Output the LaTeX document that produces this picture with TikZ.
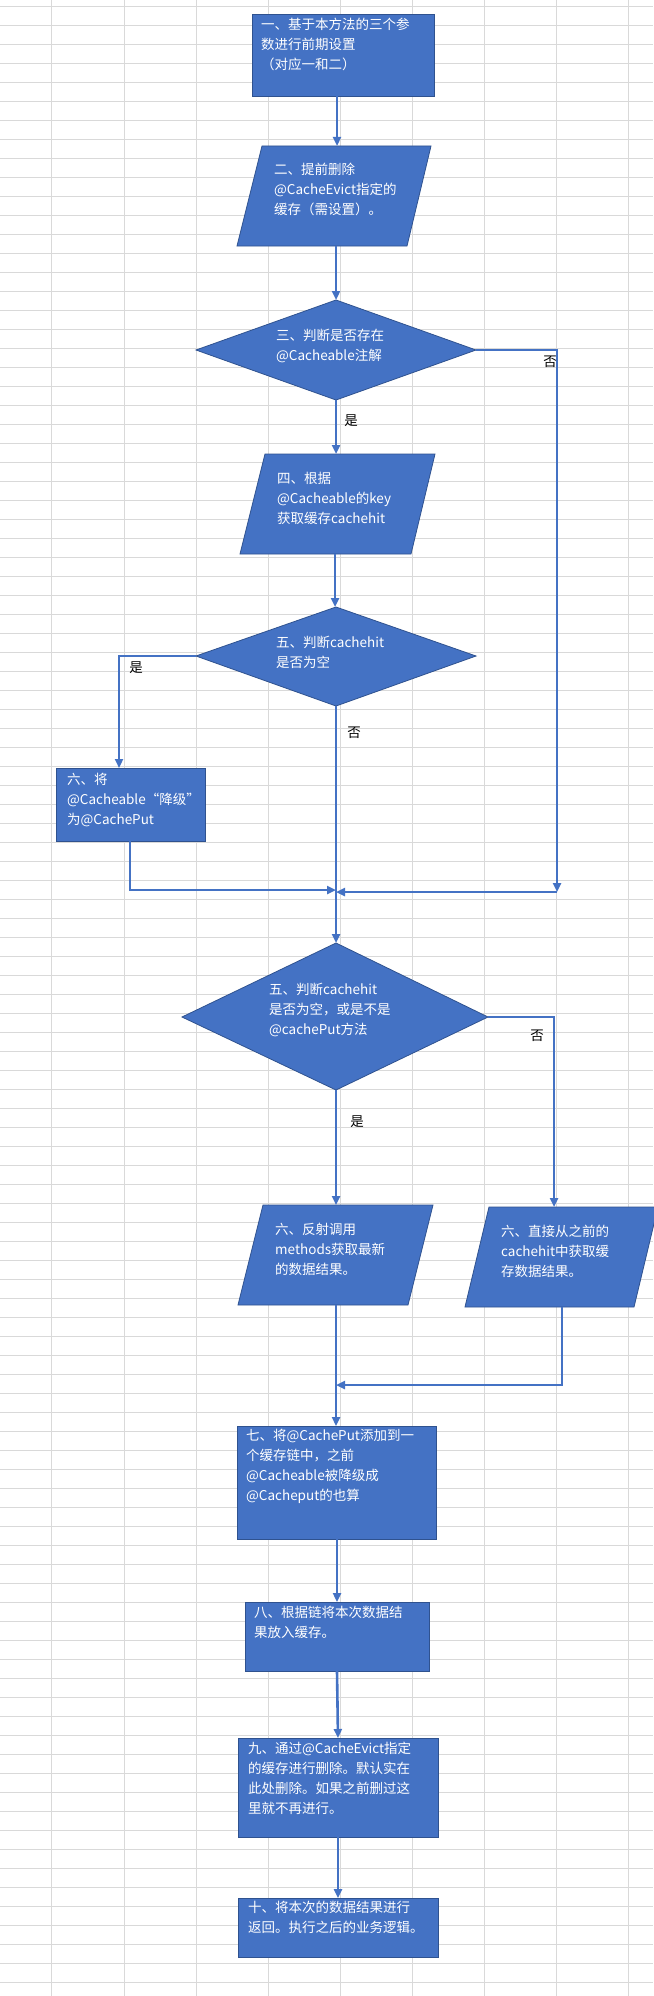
\documentclass[tikz,border=0pt]{standalone}
\usepackage{fontspec}
\setmainfont{Noto Sans CJK SC}
\usetikzlibrary{arrows.meta}
\definecolor{fillb}{HTML}{4472C4}
\definecolor{edgeb}{HTML}{2F528F}
\definecolor{gridc}{HTML}{D9D9D9}
\begin{document}
\begin{tikzpicture}[x=1pt,y=-1pt,
  shapebox/.style={fill=fillb,draw=edgeb,line width=0.8pt},
  txt/.style={anchor=north west,inner sep=0pt,text=white,align=left,font=\fontsize{13.5}{20}\selectfont},
  lbl/.style={inner sep=0pt,text=black,font=\fontsize{13.5}{16}\selectfont},
  conn/.style={draw=fillb,line width=2.6pt,-{Triangle[length=9pt,width=8pt]}},
  plain/.style={draw=fillb,line width=2.6pt}]
\useasboundingbox (0,0) rectangle (653,1996);
\fill[white] (0,0) rectangle (653,1996);
% grid
\foreach \gx in {51,124,196,268,340,412,484,556,628} \draw[gridc,line width=0.8pt] (\gx,0) -- (\gx,1996);
\foreach \k in {0,...,104} \draw[gridc,line width=0.8pt] (0,6.25+19*\k) -- (653,6.25+19*\k);
% shapes
\draw[shapebox] (252,14) rectangle (434,96);
\draw[shapebox] (262,146) -- (431,146) -- (407,246) -- (237,246) -- cycle;
\draw[shapebox] (196,350) -- (336,300) -- (476,350) -- (336,400) -- cycle;
\draw[shapebox] (265,454) -- (435,454) -- (411,554) -- (240,554) -- cycle;
\draw[shapebox] (196,656) -- (336,607) -- (476,656) -- (336,706) -- cycle;
\draw[shapebox] (56,768) rectangle (205,841);
\draw[shapebox] (182,1017) -- (336,943) -- (488,1017) -- (336,1090) -- cycle;
\draw[shapebox] (263,1205) -- (433,1205) -- (408,1305) -- (238,1305) -- cycle;
\draw[shapebox] (489,1207) -- (658,1207) -- (634,1307) -- (465,1307) -- cycle;
\draw[shapebox] (237,1426) rectangle (436,1539);
\draw[shapebox] (245,1602) rectangle (429,1671);
\draw[shapebox] (238,1738) rectangle (438,1837);
\draw[shapebox] (238,1898) rectangle (438,1957);
% coordinates
\coordinate (b1s) at (337,96); \coordinate (p2n) at (337,146);
\coordinate (p2s) at (336,246); \coordinate (d3n) at (336,300);
\coordinate (d3s) at (336,400); \coordinate (p4n) at (336,454);
\coordinate (d3e) at (476,350); \coordinate (c3e) at (557,350); \coordinate (m1e) at (557,892);
\coordinate (p4s) at (335,554); \coordinate (d5n) at (335,607);
\coordinate (d5w) at (196,656); \coordinate (c5w) at (119,656); \coordinate (b6n) at (119,768);
\coordinate (b6s) at (130,841); \coordinate (c6s) at (130,890); \coordinate (m1) at (336,890);
\coordinate (m1r) at (336,892);
\coordinate (d5s) at (336,706); \coordinate (d6n) at (336,943);
\coordinate (d6e) at (488,1017); \coordinate (c6e) at (554,1017); \coordinate (p6bn) at (554,1207);
\coordinate (d6s) at (336,1090); \coordinate (p6an) at (336,1205);
\coordinate (p6as) at (336,1305); \coordinate (b7n) at (336,1426);
\coordinate (p6bs) at (562,1307); \coordinate (c6bs) at (562,1385); \coordinate (m2) at (336,1385);
\coordinate (b7s) at (337,1539); \coordinate (b8n) at (337,1602);
\coordinate (b8s) at (337,1671); \coordinate (b9n) at (338,1738);
\coordinate (b9s) at (338,1837); \coordinate (b10n) at (338,1898);
% connectors
\draw[conn] (b1s) -- (p2n);
\draw[conn] (p2s) -- (d3n);
\draw[conn] (d3s) -- (p4n);
\draw[conn] (d3e) -- (c3e) -- (m1e);
\draw[conn] (m1e) -- (m1r);
\draw[conn] (p4s) -- (d5n);
\draw[conn] (d5w) -- (c5w) -- (b6n);
\draw[conn] (b6s) -- (c6s) -- (m1);
\draw[conn] (d5s) -- (d6n);
\draw[conn] (d6e) -- (c6e) -- (p6bn);
\draw[conn] (d6s) -- (p6an);
\draw[conn] (p6as) -- (b7n);
\draw[conn] (p6bs) -- (c6bs) -- (m2);
\draw[conn] (b7s) -- (b8n);
\draw[conn] (b8s) -- (b9n);
\draw[conn] (b9s) -- (b10n);
% texts
\node[txt] (t1) at (261,18) {一、基于本方法的三个参\\数进行前期设置\\（对应一和二）};
\node[txt] (t2) at (274,163) {二、提前删除\\@CacheEvict指定的\\缓存（需设置）。};
\node[txt] (t3) at (276,329) {三、判断是否存在\\@Cacheable注解};
\node[txt] (t4) at (277,472) {四、根据\\@Cacheable的key\\获取缓存cachehit};
\node[txt] (t5) at (276,636) {五、判断cachehit\\是否为空};
\node[txt] (t6) at (67,773) {六、将\\@Cacheable“降级”\\为@CachePut};
\node[txt] (t7) at (269,983) {五、判断cachehit\\是否为空，或是不是\\@cachePut方法};
\node[txt] (t8) at (275,1223) {六、反射调用\\methods获取最新\\的数据结果。};
\node[txt] (t9) at (501,1225) {六、直接从之前的\\cachehit中获取缓\\存数据结果。};
\node[txt] (t10) at (246,1429) {七、将@CachePut添加到一\\个缓存链中，之前\\@Cacheable被降级成\\@Cacheput的也算};
\node[txt] (t11) at (254,1606) {八、根据链将本次数据结\\果放入缓存。};
\node[txt] (t12) at (248,1742) {九、通过@CacheEvict指定\\的缓存进行删除。默认实在\\此处删除。如果之前删过这\\里就不再进行。};
\node[txt] (t13) at (248,1901) {十、将本次的数据结果进行\\返回。执行之后的业务逻辑。};
% labels
\node[lbl] (l1) at (550,362) {否};
\node[lbl] (l2) at (351,421) {是};
\node[lbl] (l3) at (136,668) {是};
\node[lbl] (l4) at (354,733) {否};
\node[lbl] (l5) at (537,1036) {否};
\node[lbl] (l6) at (357,1122) {是};
\end{tikzpicture}
\end{document}
